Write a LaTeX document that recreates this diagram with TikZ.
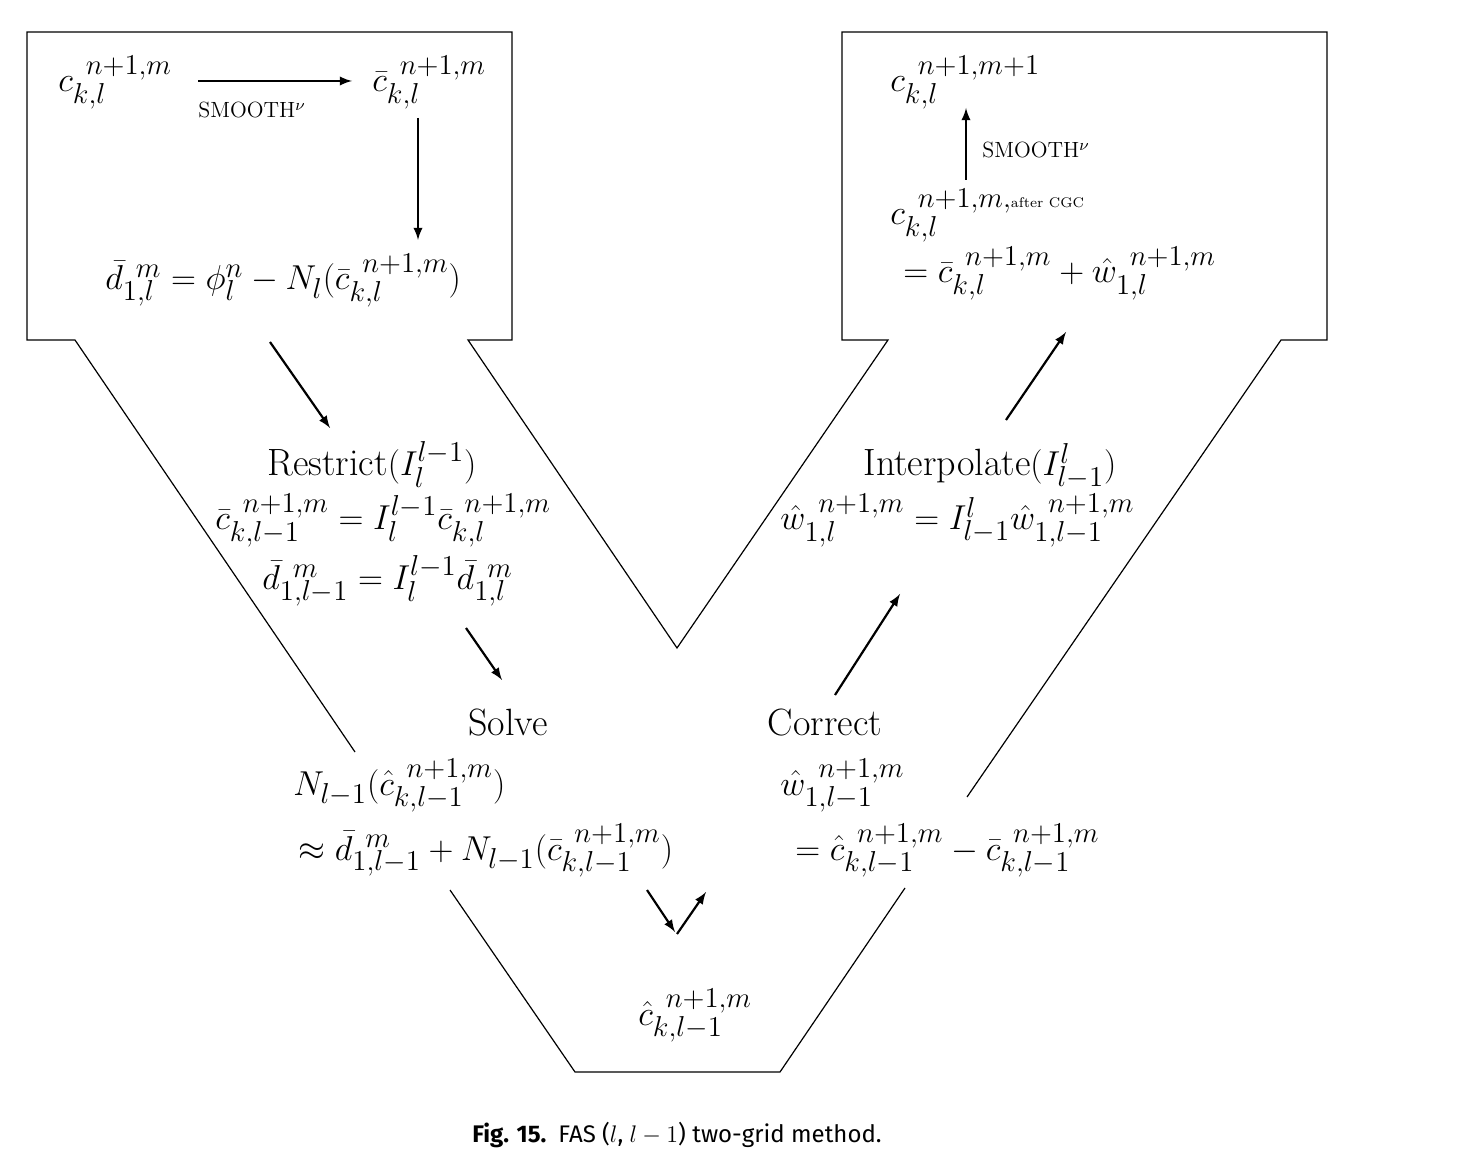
\documentclass[tikz,border=0pt]{standalone}
\usepackage{fontspec}
\newfontfamily\capfont{Fira Sans}
\begin{document}
\begin{tikzpicture}[x=0.5pt,y=-0.5pt,
  txt/.style={anchor=base west,inner sep=0pt,font=\fontsize{19}{23}\selectfont},
  ctxt/.style={anchor=base,inner sep=0pt,font=\fontsize{19}{23}\selectfont},
  small/.style={anchor=base west,inner sep=0pt,font=\fontsize{11}{13}\selectfont},
  arr/.style={-latex,line width=1.1pt},
  outl/.style={line width=0.6pt}]
\useasboundingbox (0,0) rectangle (1457,1170);
% outline
\draw[outl] (355,752) -- (75,340) -- (27,340) -- (27,32) -- (512,32) -- (512,340) -- (468,340) -- (677,648) -- (888,340) -- (842,340) -- (842,32) -- (1327,32) -- (1327,340) -- (1281,340) -- (967,797);
\draw[outl] (450,890) -- (575,1072) -- (780,1072) -- (905,888);
% texts
\node[txt] (a1) at (58,92) {$c_{k,l}^{\;\,n+1,m}$};
\node[small] (s1) at (198,118) {SMOOTH$^{\nu}$};
\node[txt] (a2) at (372,92) {$\bar{c}_{k,l}^{\;\,n+1,m}$};
\node[txt] (a3) at (105,290) {$\bar{d}_{1,l}^{\;\,m}=\phi_l^n-N_l(\bar{c}_{k,l}^{\;\,n+1,m})$};
\node[ctxt] (r) at (372,476) {Restrict$(I_l^{l-1})$};
\node[txt] (r1) at (215,530) {$\bar{c}_{k,l-1}^{\;\,n+1,m}=I_l^{l-1}\bar{c}_{k,l}^{\;\,n+1,m}$};
\node[txt] (r2) at (262,590) {$\bar{d}_{1,l-1}^{\;\,m}=I_l^{l-1}\bar{d}_{1,l}^{\;\,m}$};
\node[ctxt] (sv) at (508,735) {Solve};
\node[txt] (s2) at (293,795) {$N_{l-1}(\hat{c}_{k,l-1}^{\;\,n+1,m})$};
\node[txt] (s3) at (298,860) {$\approx\bar{d}_{1,l-1}^{\;\,m}+N_{l-1}(\bar{c}_{k,l-1}^{\;\,n+1,m})$};
\node[txt] (b) at (638,1025) {$\hat{c}_{k,l-1}^{\;\,n+1,m}$};
\node[ctxt] (co) at (825,735) {Correct};
\node[txt] (c2) at (780,795) {$\hat{w}_{1,l-1}^{\;\,n+1,m}$};
\node[txt] (c3) at (795,860) {$=\hat{c}_{k,l-1}^{\;\,n+1,m}-\bar{c}_{k,l-1}^{\;\,n+1,m}$};
\node[ctxt] (ip) at (990,476) {Interpolate$(I_{l-1}^{l})$};
\node[txt] (i2) at (780,530) {$\hat{w}_{1,l}^{\;\,n+1,m}=I_{l-1}^{l}\hat{w}_{1,l-1}^{\;\,n+1,m}$};
\node[txt] (t1) at (890,92) {$c_{k,l}^{\;\,n+1,m+1}$};
\node[small] (s2b) at (982,158) {SMOOTH$^{\nu}$};
\node[txt] (t2) at (890,225) {$c_{k,l}^{\;\,n+1,m,\mbox{\scriptsize after CGC}}$};
\node[txt] (t3) at (903,283) {$=\bar{c}_{k,l}^{\;\,n+1,m}+\hat{w}_{1,l}^{\;\,n+1,m}$};
\node[anchor=base,inner sep=0pt,font=\capfont\fontsize{12}{14}\selectfont] (cap) at (677,1142) {\textbf{Fig. 15.}\enspace FAS ($l$, $l-1$) two-grid method.};
% arrows
\coordinate (p1) at (198,81); \coordinate (p2) at (352,81);
\draw[arr] (p1) -- (p2);
\coordinate (p3) at (418,118); \coordinate (p4) at (418,240);
\draw[arr] (p3) -- (p4);
\coordinate (p5) at (270,342); \coordinate (p6) at (330,428);
\draw[arr] (p5) -- (p6);
\coordinate (p7) at (466,628); \coordinate (p8) at (502,680);
\draw[arr] (p7) -- (p8);
\coordinate (p9) at (647,890); \coordinate (p10) at (675,932);
\draw[arr] (p9) -- (p10);
\coordinate (p11) at (677,934); \coordinate (p12) at (706,892);
\draw[arr] (p11) -- (p12);
\coordinate (p13) at (835,695); \coordinate (p14) at (900,594);
\draw[arr] (p13) -- (p14);
\coordinate (p15) at (1006,420); \coordinate (p16) at (1066,332);
\draw[arr] (p15) -- (p16);
\coordinate (p17) at (966,180); \coordinate (p18) at (966,108);
\draw[arr] (p17) -- (p18);
\end{tikzpicture}
\end{document}
